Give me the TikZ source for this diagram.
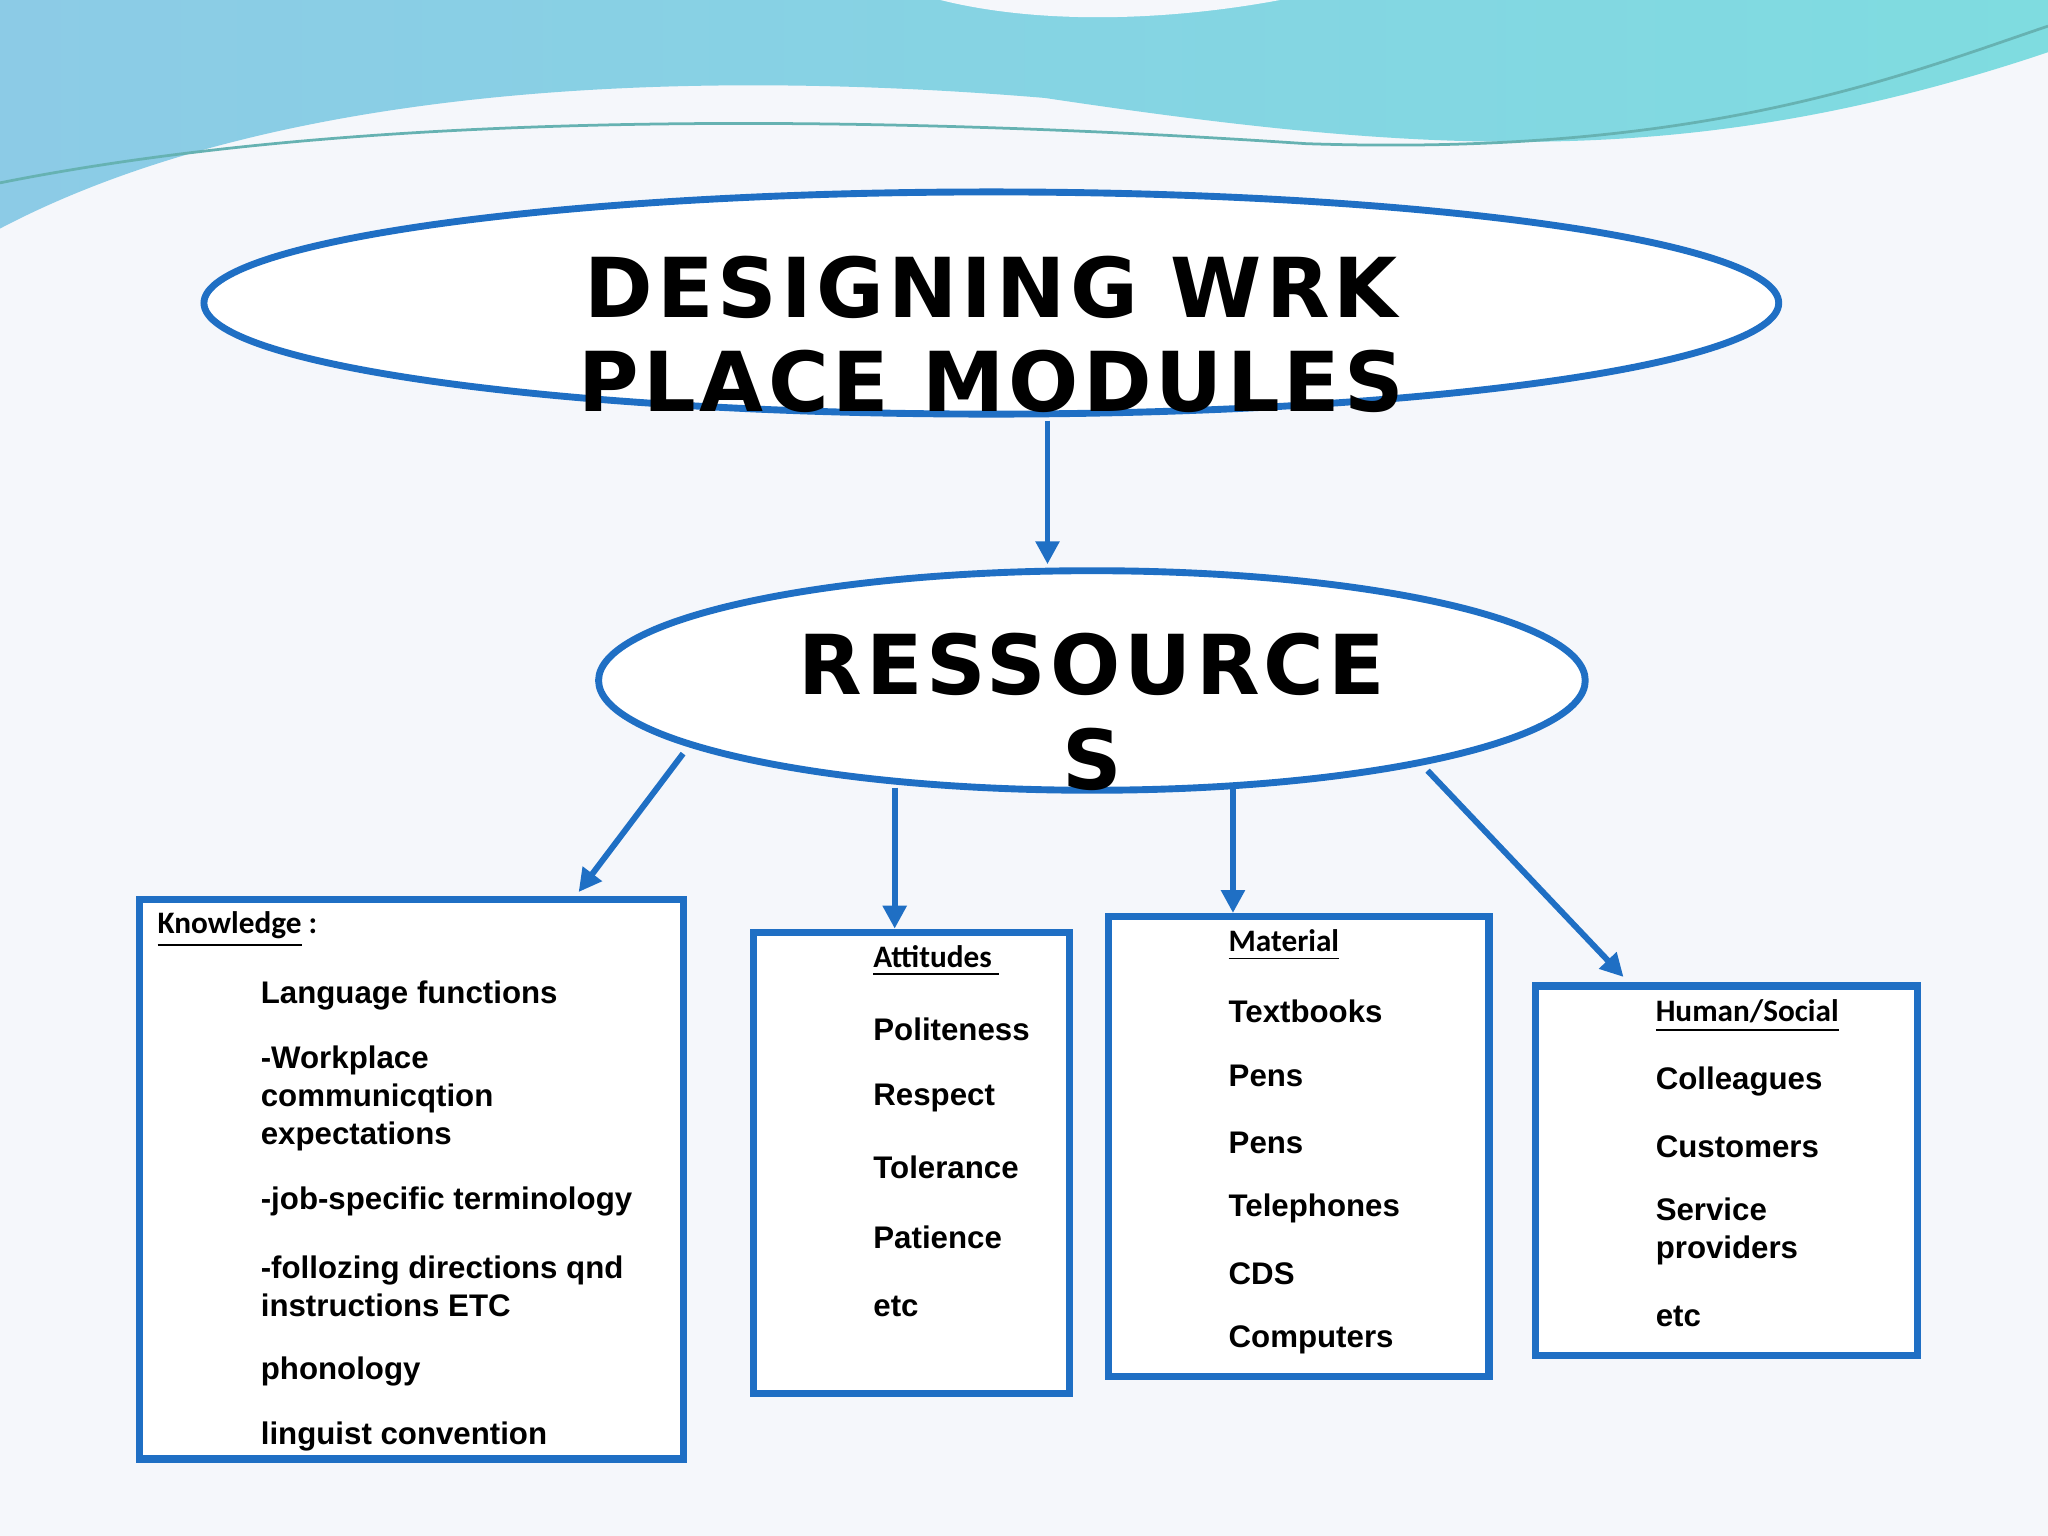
\documentclass[tikz,border=0pt]{standalone}
\usepackage{fontspec}
\setmainfont{Liberation Sans}
\newfontfamily\calfnt{Carlito}
\newfontfamily\blkfnt[LetterSpace=5]{DejaVu Sans}
\usetikzlibrary{arrows.meta,shapes.geometric}
\definecolor{bl}{HTML}{1F6FC4}
\definecolor{wa}{HTML}{8CCBE6}
\definecolor{wb}{HTML}{7FDCE0}
\definecolor{bg}{HTML}{F5F7FB}
\tikzset{
 ell/.style={draw=bl,line width=1.5pt,fill=white,inner sep=0},
 bx/.style={draw=bl,line width=1.6pt,fill=white,inner sep=0},
 arr/.style={draw=bl,line width=1.3pt,-{Triangle[length=5pt,width=5pt]}},
 tt/.style={font=\blkfnt\bfseries\fontsize{18}{20.5}\selectfont,align=center},
 it/.style={anchor=west,font=\bfseries\fontsize{6.8}{8.3}\selectfont,align=left,inner sep=0},
 hd/.style={anchor=west,font=\calfnt\bfseries\fontsize{6.8}{7.5}\selectfont,inner sep=0}
}
\begin{document}
\begin{tikzpicture}[x=0.01cm,y=-0.01cm]
\useasboundingbox (0,0) rectangle (1568,1176);
\fill[bg] (0,0) rectangle (1568,1176);
\shade[left color=wa,right color=wb] (0,0) -- (1568,0) -- (1568,40) .. controls (1300,130) and (1100,120) .. (800,75) .. controls (500,50) and (200,70) .. (0,175) -- cycle;
\fill[bg] (720,0) .. controls (800,20) and (900,15) .. (980,0) -- cycle;
\draw[teal!60,line width=0.6pt] (0,140) .. controls (300,80) and (700,90) .. (1000,110) .. controls (1300,120) and (1450,60) .. (1568,20);
\node[ell,ellipse,minimum width=12.05cm,minimum height=1.7cm] (e1) at (759,232) {};
\node[tt] (t1) at (759,256) {DESIGNING WRK\\PLACE MODULES};
\node[ell,ellipse,minimum width=7.55cm,minimum height=1.68cm] (e2) at (836,521) {};
\node[tt] (t2) at (836,545) {RESSOURCE\\S};
\coordinate (a1) at (802,322); \coordinate (b1) at (802,432);
\draw[arr] (a1) -- (b1);
\node[bx,minimum width=4.16cm,minimum height=4.28cm,anchor=north west] (k) at (104,686) {};
\node[bx,minimum width=2.42cm,minimum height=3.53cm,anchor=north west] (at) at (574,711) {};
\node[bx,minimum width=2.91cm,minimum height=3.52cm,anchor=north west] (m) at (846,699) {};
\node[bx,minimum width=2.92cm,minimum height=2.83cm,anchor=north west] (h) at (1173,752) {};
\coordinate (s1) at (523,577); \coordinate (s2) at (685,603); \coordinate (s3) at (944,600); \coordinate (s4) at (1093,590);
\draw[arr] (s1) -- (443,683);
\draw[arr] (s2) -- (at.north west -| s2);
\draw[arr] (s3) -- (m.north west -| s3);
\draw[arr] (s4) -- (1243,748);
\node[hd] (kh) at (120,712) {\underline{Knowledge} :};
\node[it] at (199,762) {Language functions};
\node[it] at (199,841) {-Workplace\\communicqtion\\expectations};
\node[it] at (199,920) {-job-specific terminology};
\node[it] at (199,985) {-follozing directions qnd\\instructions ETC};
\node[it] at (199,1050) {phonology};
\node[it] at (199,1100) {linguist convention};
\node[hd] at (668,736) {\underline{Attitudes\ }};
\node[it] at (668,788) {Politeness};
\node[it] at (668,841) {Respect};
\node[it] at (668,894) {Tolerance};
\node[it] at (668,947) {Patience};
\node[it] at (668,1000) {etc};
\node[hd] at (940,724) {\underline{Material}};
\node[it] at (940,774) {Textbooks};
\node[it] at (940,824) {Pens};
\node[it] at (940,875) {Pens};
\node[it] at (940,925) {Telephones};
\node[it] at (940,975) {CDS};
\node[it] at (940,1026) {Computers};
\node[hd] at (1267,778) {\underline{Human/Social}};
\node[it] at (1267,828) {Colleagues};
\node[it] at (1267,878) {Customers};
\node[it] at (1267,943) {Service\\providers};
\node[it] at (1267,1008) {etc};
\end{tikzpicture}
\end{document}
